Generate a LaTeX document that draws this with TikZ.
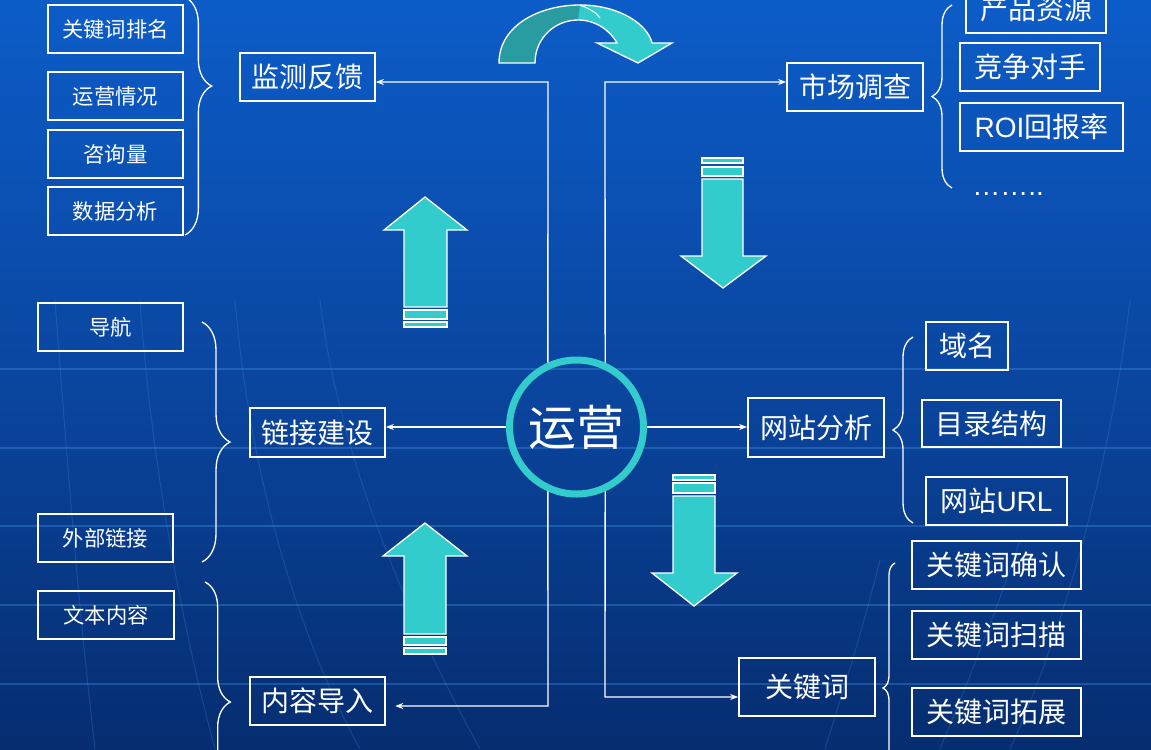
\documentclass[tikz,border=0pt]{standalone}
\usepackage{fontspec}
\setmainfont{Noto Sans CJK SC}
\newfontfamily\lat{Liberation Sans}
\usetikzlibrary{arrows.meta,decorations.pathreplacing}
\definecolor{tealA}{RGB}{51,204,204}
\definecolor{tealB}{RGB}{40,156,160}
\definecolor{bgtop}{RGB}{12,92,200}
\definecolor{bgmid}{RGB}{10,70,160}
\definecolor{bgbot}{RGB}{6,45,112}
\definecolor{gridc}{RGB}{70,150,235}
\begin{document}
\begin{tikzpicture}[x=0.75pt,y=-0.75pt,
  box/.style={draw=white, line width=1.3pt, text=white, inner sep=0pt, minimum height=36pt, font=\fontsize{21}{21}\selectfont},
  sbox/.style={box, font=\fontsize{16}{16}\selectfont},
  conn/.style={draw=white, line width=1pt, -{Stealth[length=6pt,width=4.5pt]}},
  brc/.style={draw=white, line width=1pt, decorate},
  bigarrow/.style={fill=tealA, draw=white, line width=1pt, line join=miter},
  gridl/.style={draw=gridc, line width=1pt, opacity=0.35},
  meri/.style={draw=gridc, line width=0.8pt, opacity=0.22},
]
\useasboundingbox (0,0) rectangle (1151,749);
\shade[top color=bgtop, bottom color=bgbot, middle color=bgmid] (0,0) rectangle (1151,749);
% faint background grid
\foreach \yy in {369,448,526,605,684} {\draw[gridl] (0,\yy) -- (1151,\yy);}
\draw[meri] (55,300) .. controls (70,500) and (80,620) .. (95,749);
\draw[meri] (140,300) .. controls (150,450) and (180,620) .. (215,749);
\draw[meri] (235,300) .. controls (250,480) and (300,640) .. (360,749);
\draw[meri] (320,300) .. controls (340,470) and (420,640) .. (480,749);
\draw[meri] (1130,300) .. controls (1110,470) and (1060,640) .. (1010,749);
\draw[meri] (880,560) .. controls (860,640) and (840,700) .. (825,749);
\draw[meri] (1020,540) .. controls (990,630) and (960,700) .. (940,749);

% central node
\node[circle, draw=tealA, line width=5.25pt, minimum size=100.5pt, inner sep=0pt, text=white,
      font=\fontsize{36}{36}\selectfont] (yy) at (576.5,427) {运营};

% main boxes
\node[box, minimum width=101.25pt] (jc) at (307.5,77) {监测反馈};
\node[box, minimum width=102pt] (sc) at (855,87) {市场调查};
\node[box, minimum width=101.25pt, minimum height=36.75pt] (lj) at (317.5,432.5) {链接建设};
\node[box, minimum width=102pt, minimum height=44.25pt] (wz) at (816,427.5) {网站分析};
\node[box, minimum width=101.25pt] (nr) at (317.5,701) {内容导入};
\node[box, minimum width=102pt, minimum height=43.5pt] (gj) at (807,687) {关键词};

% left top column
\node[sbox, minimum width=101.25pt] (l1) at (115.5,29) {关键词排名};
\node[sbox, minimum width=101.25pt] (l2) at (115.5,96) {运营情况};
\node[sbox, minimum width=101.25pt] (l3) at (115.5,154) {咨询量};
\node[sbox, minimum width=101.25pt] (l4) at (115.5,211) {数据分析};
% left middle
\node[sbox, minimum width=108.75pt] (m1) at (110.5,327) {导航};
\node[sbox, minimum width=101.25pt] (m2) at (105.5,538) {外部链接};
\node[sbox, minimum width=102pt] (b1) at (106,615) {文本内容};
% right top
\node[box, minimum width=105pt] (r1) at (1036,9) {产品资源};
\node[box, minimum width=105pt] (r2) at (1030,67) {竞争对手};
\node[box, minimum width=122.25pt] (r3) at (1041.5,127) {{\lat ROI}回报率};
\node[text=white, font=\lat\fontsize{21}{21}\selectfont, anchor=base west, inner sep=0pt] (r4) at (972,195) {……..};
% right middle
\node[box, minimum width=61.5pt] (w1) at (967,346) {域名};
\node[box, minimum width=104.25pt, minimum height=35.25pt] (w2) at (991.5,423.5) {目录结构};
\node[box, minimum width=105.75pt] (w3) at (996.5,501) {网站{\lat URL}};
% right bottom
\node[box, minimum width=126.75pt] (k1) at (996.5,565) {关键词确认};
\node[box, minimum width=126.75pt] (k2) at (996.5,635) {关键词扫描};
\node[box, minimum width=126.75pt] (k3) at (996.5,712) {关键词拓展};

% connectors
\coordinate (c1) at (548,82);
\coordinate (c2) at (605,82);
\coordinate (c3) at (548,706);
\coordinate (c4) at (605,697);
\draw[conn] (yy.114) -- (c1) -- (jc.east |- c1);
\draw[conn] (yy.66) -- (c2) -- (sc.west |- c2);
\draw[conn] (yy.west) -- (lj.east |- yy.west);
\draw[conn] (yy.east) -- (wz.west |- yy.east);
\draw[conn, shorten >=7pt] (yy.246) -- (c3) -- (nr.east |- c3);
\draw[conn] (yy.294) -- (c4) -- (gj.west |- c4);

% braces
\draw[brc, decoration={brace, amplitude=20pt, aspect=0.374}] (185,-3) -- (185,235);
\draw[brc, decoration={brace, amplitude=21pt, aspect=0.5}] (202,322) -- (202,562);
\draw[brc, decoration={brace, amplitude=19pt, aspect=0.5}] (205,582) -- (205,822);
\draw[brc, decoration={brace, amplitude=15pt, aspect=0.5}] (952,188) -- (952,5);
\draw[brc, decoration={brace, amplitude=15pt, aspect=0.5}] (913,523) -- (913,337);
\draw[brc, decoration={brace, amplitude=9pt, aspect=0.5}] (895,813) -- (895,563);

% curved arrow on top
\fill[tealA] (499,63) .. controls (499,25) and (540,5) .. (580,5)
   .. controls (620,5) and (648,25) .. (652,43) -- (672,43) -- (638,63) -- (597,43) -- (617,43)
   .. controls (610,30) and (595,20) .. (578,20) .. controls (555,20) and (535,38) .. (535,63) -- cycle;
\fill[tealB] (499,63) .. controls (499,25) and (540,5) .. (580,5) -- (578,20)
   .. controls (555,20) and (535,38) .. (535,63) -- cycle;
\draw[white, line width=1pt, line join=miter] (499,63) .. controls (499,25) and (540,5) .. (580,5)
   .. controls (620,5) and (648,25) .. (652,43) -- (672,43) -- (638,63) -- (597,43) -- (617,43)
   .. controls (610,30) and (595,20) .. (578,20) .. controls (555,20) and (535,38) .. (535,63) -- cycle;
\draw[white, line width=0.8pt] (580,5) .. controls (590,9) and (597,13) .. (600,18);

% upper up arrow
\draw[bigarrow] (425,197) -- (467,230) -- (447,230) -- (447,307) -- (404,307) -- (404,230) -- (384,230) -- cycle;
\draw[bigarrow] (404,310) rectangle (447,319);
\draw[bigarrow] (404,322) rectangle (447,327);
% lower up arrow
\draw[bigarrow] (425,523) -- (467,556) -- (446,556) -- (446,634) -- (404,634) -- (404,556) -- (383,556) -- cycle;
\draw[bigarrow] (404,637) rectangle (446,645);
\draw[bigarrow] (404,648) rectangle (446,654);
% upper down arrow
\draw[bigarrow] (723,288) -- (766,256) -- (743,256) -- (743,179) -- (702,179) -- (702,256) -- (681,256) -- cycle;
\draw[bigarrow] (702,158) rectangle (743,163);
\draw[bigarrow] (702,167) rectangle (743,176);
% lower down arrow
\draw[bigarrow] (694,606) -- (737,573) -- (715,573) -- (715,496) -- (673,496) -- (673,573) -- (652,573) -- cycle;
\draw[bigarrow] (673,475) rectangle (715,480);
\draw[bigarrow] (673,483) rectangle (715,493);
\end{tikzpicture}
\end{document}
